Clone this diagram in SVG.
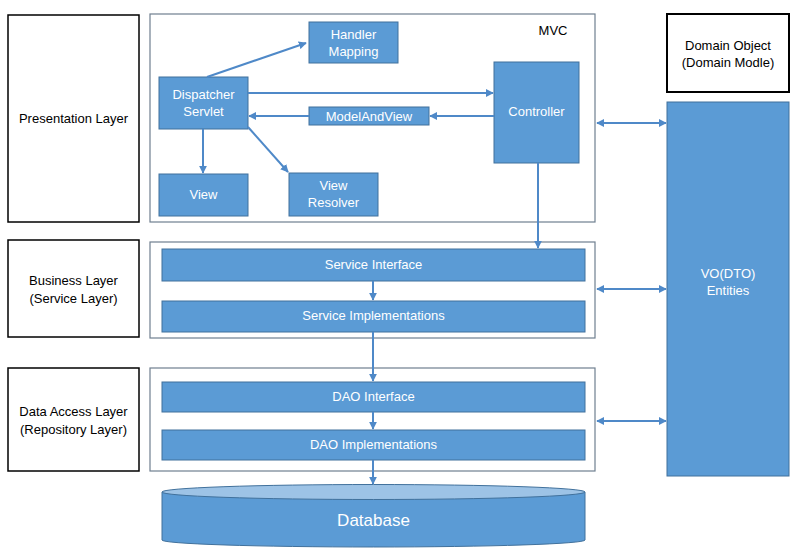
<svg xmlns="http://www.w3.org/2000/svg" width="800" height="553" viewBox="0 0 800 553">
<style>
  .lay{fill:#fff;stroke:#000;stroke-width:1.5}
  .cont{fill:#fff;stroke:#6f7f8f;stroke-width:1.2}
  .blk{fill:#5b9bd5;stroke:#41719c;stroke-width:1}
  .t{font-family:"Liberation Sans",Arial,sans-serif;font-size:13px;text-anchor:middle}
  .w{fill:#fff}
  .k{fill:#000}
  .c{stroke:#4f89c8;stroke-width:2;fill:none}
</style>
<defs>
  <marker id="ah" viewBox="0 0 10 10" refX="9" refY="5" markerWidth="4" markerHeight="4" orient="auto-start-reverse" markerUnits="strokeWidth">
    <path d="M0,0 L10,5 L0,10 z" fill="#4f89c8"/>
  </marker>
</defs>
<rect width="800" height="553" fill="#fff"/>

<g id="presentation-layer"><rect class="lay" x="8" y="15" width="131" height="207"/><text class="t k" x="73.5" y="123">Presentation Layer</text></g>
<g id="business-layer"><rect class="lay" x="8" y="240" width="131" height="97"/><text class="t k" x="73.5" y="285">Business Layer</text><text class="t k" x="73.5" y="303">(Service Layer)</text></g>
<g id="data-access-layer"><rect class="lay" x="8" y="368" width="131" height="103"/><text class="t k" x="73.5" y="416">Data Access Layer</text><text class="t k" x="73.5" y="434">(Repository Layer)</text></g>

<g id="mvc"><rect class="cont" x="150" y="14" width="445" height="208"/><text class="t k" x="553" y="35">MVC</text></g>
<g id="business-container"><rect class="cont" x="150" y="242" width="445" height="96"/></g>
<g id="data-container"><rect class="cont" x="150" y="368" width="445" height="103"/></g>

<g id="handler-mapping"><rect class="blk" x="309" y="22" width="89" height="41"/><text class="t w" x="353.5" y="39">Handler</text><text class="t w" x="353.5" y="56">Mapping</text></g>
<g id="dispatcher-servlet"><rect class="blk" x="159" y="77" width="89" height="52"/><text class="t w" x="203.5" y="99">Dispatcher</text><text class="t w" x="203.5" y="116">Servlet</text></g>
<g id="model-and-view"><rect class="blk" x="309" y="107" width="120" height="18"/><text class="t w" x="369" y="121">ModelAndView</text></g>
<g id="controller"><rect class="blk" x="494" y="62" width="85" height="101"/><text class="t w" x="536.5" y="116">Controller</text></g>
<g id="view"><rect class="blk" x="159" y="174" width="89" height="42"/><text class="t w" x="203.5" y="199">View</text></g>
<g id="view-resolver"><rect class="blk" x="289" y="173" width="89" height="43"/><text class="t w" x="333.5" y="190">View</text><text class="t w" x="333.5" y="207">Resolver</text></g>

<g id="service-interface"><rect class="blk" x="162" y="249" width="423" height="32"/><text class="t w" x="373.5" y="269">Service Interface</text></g>
<g id="service-impl"><rect class="blk" x="162" y="301" width="423" height="31"/><text class="t w" x="373.5" y="320">Service Implementations</text></g>
<g id="dao-interface"><rect class="blk" x="162" y="382" width="423" height="30"/><text class="t w" x="373.5" y="401">DAO Interface</text></g>
<g id="dao-impl"><rect class="blk" x="162" y="430" width="423" height="30"/><text class="t w" x="373.5" y="449">DAO Implementations</text></g>

<g id="database">
  <path d="M162,492 L162,540 A211.5,7 0 0 0 585,540 L585,492" fill="#5b9bd5" stroke="#41719c" stroke-width="1"/>
  <ellipse cx="373.5" cy="492" rx="211.5" ry="7.5" fill="#9dc3e6" stroke="#41719c" stroke-width="1"/>
  <text x="373.5" y="526" font-family="'Liberation Sans',Arial,sans-serif" font-size="17" text-anchor="middle" fill="#fff">Database</text>
</g>

<g id="domain-object"><rect x="667" y="14" width="122" height="78" fill="#fff" stroke="#000" stroke-width="2"/><text class="t k" x="728" y="50">Domain Object</text><text class="t k" x="728" y="67">(Domain Modle)</text></g>
<g id="vo-dto"><rect class="blk" x="667" y="102" width="122" height="374"/><text class="t w" x="728" y="278">VO(DTO)</text><text class="t w" x="728" y="295">Entities</text></g>

<g id="connectors">
  <line class="c" x1="207" y1="77" x2="306" y2="43" marker-end="url(#ah)"/>
  <line class="c" x1="248" y1="93" x2="493" y2="93" marker-end="url(#ah)"/>
  <line class="c" x1="494" y1="116" x2="430" y2="116" marker-end="url(#ah)"/>
  <line class="c" x1="309" y1="116" x2="249" y2="116" marker-end="url(#ah)"/>
  <line class="c" x1="203" y1="129" x2="203" y2="173" marker-end="url(#ah)"/>
  <line class="c" x1="248" y1="127" x2="288" y2="172" marker-end="url(#ah)"/>
  <line class="c" x1="538" y1="163" x2="538" y2="248" marker-end="url(#ah)"/>
  <line class="c" x1="373" y1="281" x2="373" y2="300" marker-end="url(#ah)"/>
  <line class="c" x1="373" y1="332" x2="373" y2="381" marker-end="url(#ah)"/>
  <line class="c" x1="373" y1="412" x2="373" y2="429" marker-end="url(#ah)"/>
  <line class="c" x1="373" y1="460" x2="373" y2="484" marker-end="url(#ah)"/>
  <line class="c" x1="597" y1="123" x2="666" y2="123" marker-start="url(#ah)" marker-end="url(#ah)"/>
  <line class="c" x1="597" y1="289" x2="666" y2="289" marker-start="url(#ah)" marker-end="url(#ah)"/>
  <line class="c" x1="597" y1="421" x2="666" y2="421" marker-start="url(#ah)" marker-end="url(#ah)"/>
</g>
</svg>
